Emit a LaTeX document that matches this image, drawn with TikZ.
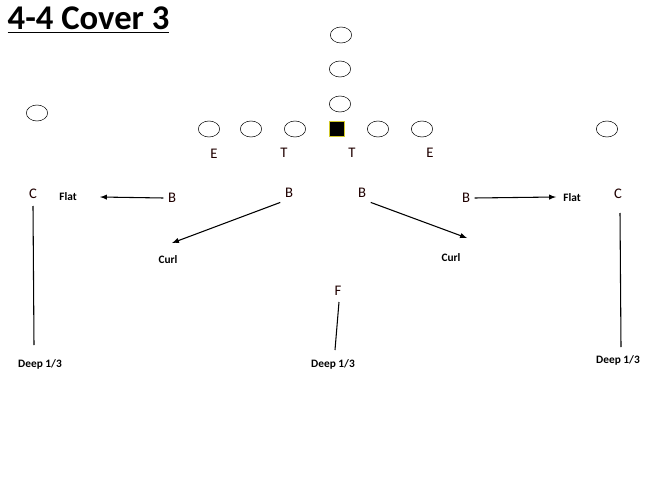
\documentclass[tikz,border=0pt]{standalone}
\usepackage{fontspec}
\setmainfont{Carlito}
\usetikzlibrary{shapes.geometric}
\begin{document}
\begin{tikzpicture}[x=0.75pt,y=-0.75pt,
 pl/.style={ellipse,draw,fill=white,minimum width=16pt,minimum height=12pt,inner sep=0pt},
 lab/.style={font=\fontsize{11}{13}\selectfont,text=black!80!red!60!black},
 rt/.style={font=\bfseries\fontsize{8.5}{10}\selectfont},
 ar/.style={-latex,thick}, ln/.style={thick}]
\useasboundingbox (0,0) rectangle (663,499);
\node[anchor=west,font=\bfseries\fontsize{26}{30}\selectfont] (title) at (3,20) {\underline{4-4 Cover 3}};
\foreach \n/\x/\y in {a/341/35,b/340/69,c/340/104,d/37/113,e/209/129,f/251/129,g/295/129,h/378/129,i/422/129,j/607/129}
 \node[pl] (\n) at (\x,\y) {};
\node[draw=yellow!80!black,fill=black,minimum size=11pt,inner sep=0pt,line width=0.8pt] (ctr) at (337,129) {};
\node[lab] (e1) at (214,154) {E};
\node[lab] (t1) at (284,153) {T};
\node[lab] (t2) at (352,153) {T};
\node[lab] (e2) at (430,153) {E};
\node[lab] (c1) at (33,194) {C};
\node[rt] (fl1) at (68,197) {Flat};
\node[lab] (b1) at (172,198) {B};
\node[lab] (b2) at (289,193) {B};
\node[rt] (cu1) at (168,260) {Curl};
\node[lab] (b3) at (362,193) {B};
\node[rt] (cu2) at (451,258) {Curl};
\node[lab] (b4) at (466,198) {B};
\node[rt] (fl2) at (572,198) {Flat};
\node[lab] (c2) at (618,194) {C};
\node[lab] (f) at (338,291) {F};
\node[rt] (d1) at (40,364) {Deep 1/3};
\node[rt] (d2) at (333,364) {Deep 1/3};
\node[rt] (d3) at (618,360) {Deep 1/3};
\coordinate (l1) at (33,206); \coordinate (l1e) at (34,345);
\coordinate (m1) at (339,302); \coordinate (m1e) at (335,350);
\coordinate (r1) at (620,213); \coordinate (r1e) at (621,347);
\coordinate (a1) at (100,197);
\coordinate (a2) at (172,243); \coordinate (a3) at (467,238); \coordinate (a4) at (556,197);
\draw[ln] (l1) -- (l1e); \draw[ln] (m1) -- (m1e); \draw[ln] (r1) -- (r1e);
\draw[ar] (b1.west) -- (a1);
\draw[ar] (b2.south west) -- (a2);
\draw[ar] (b3.south east) -- (a3);
\draw[ar] (b4.east) -- (a4);
\end{tikzpicture}
\end{document}
